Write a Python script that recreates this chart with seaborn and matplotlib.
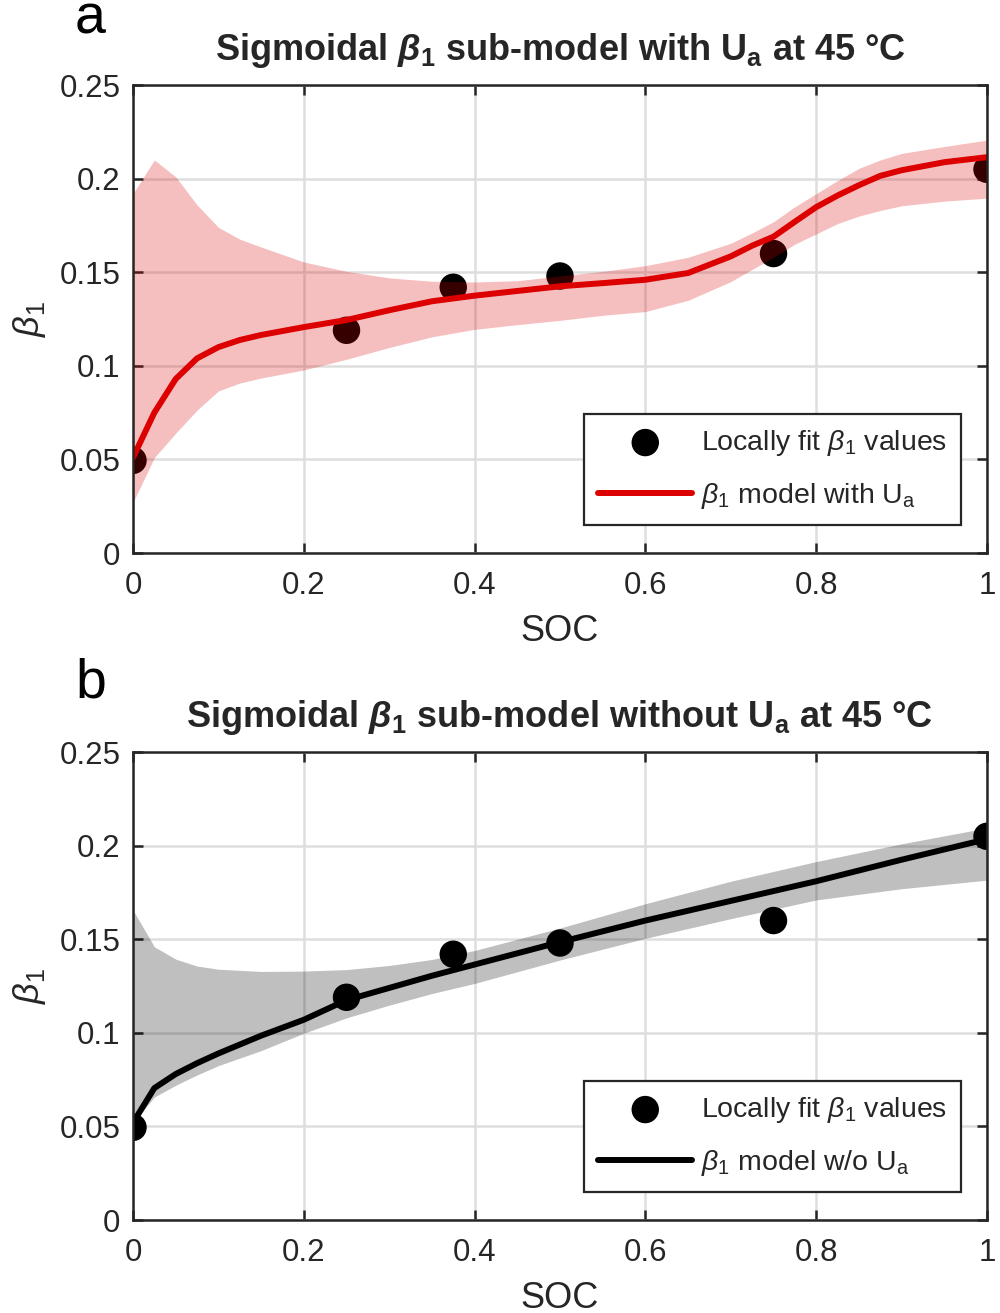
import numpy as np
import pandas as pd
import matplotlib
matplotlib.use('Agg')
import matplotlib.pyplot as plt
import seaborn as sns

# locally fit beta1 values
soc_pts = [0, 0.25, 0.375, 0.5, 0.75, 1.0]
beta_pts = [0.0495, 0.119, 0.142, 0.148, 0.160, 0.205]

# sub-model with Ua
soc_a = [0, 0.025, 0.05, 0.075, 0.1, 0.125, 0.15, 0.2, 0.25, 0.3, 0.35, 0.4, 0.45, 0.5,
         0.55, 0.6, 0.65, 0.7, 0.725, 0.75, 0.775, 0.8, 0.825, 0.85, 0.875, 0.9, 0.95, 1.0]
mid_a = [0.051, 0.075, 0.093, 0.104, 0.110, 0.1138, 0.1165, 0.1207, 0.1245, 0.1297, 0.1345, 0.1375, 0.140, 0.1425,
         0.1442, 0.146, 0.1496, 0.1585, 0.1642, 0.169, 0.177, 0.1848, 0.191, 0.1965, 0.2015, 0.2045, 0.2088, 0.2115]
upper_a = [0.192, 0.210, 0.201, 0.186, 0.174, 0.1677, 0.1635, 0.1555, 0.1505, 0.147, 0.1452, 0.1448, 0.1455, 0.148,
           0.1505, 0.1535, 0.158, 0.1655, 0.171, 0.177, 0.185, 0.192, 0.199, 0.2055, 0.210, 0.2135, 0.2172, 0.2206]
lower_a = [0.027, 0.051, 0.064, 0.0763, 0.0866, 0.0908, 0.0935, 0.0978, 0.1035, 0.1098, 0.1155, 0.1195, 0.122, 0.1243,
           0.127, 0.129, 0.135, 0.145, 0.1515, 0.158, 0.165, 0.1705, 0.176, 0.180, 0.183, 0.1855, 0.188, 0.1896]

# sub-model without Ua
soc_b = [0, 0.025, 0.05, 0.075, 0.1, 0.15, 0.2, 0.25, 0.3, 0.35, 0.4, 0.5, 0.6, 0.7, 0.8, 0.9, 1.0]
mid_b = [0.052, 0.0705, 0.078, 0.0838, 0.089, 0.0985, 0.107, 0.1175, 0.124, 0.1305, 0.1365, 0.1485, 0.160,
         0.1705, 0.181, 0.1925, 0.2035]
upper_b = [0.1656, 0.146, 0.1394, 0.1357, 0.134, 0.1328, 0.133, 0.1338, 0.136, 0.1392, 0.144, 0.156, 0.169,
           0.181, 0.1915, 0.201, 0.2095]
lower_b = [0.052, 0.0657, 0.072, 0.0775, 0.0825, 0.0905, 0.0998, 0.108, 0.1148, 0.121, 0.1264, 0.1389, 0.1505,
           0.161, 0.171, 0.177, 0.1816]

RED = '#dc0000'
sns.set_theme(style='ticks')
plt.rcParams['font.family'] = ['Liberation Sans', 'DejaVu Sans']
plt.rcParams['mathtext.fontset'] = 'custom'
plt.rcParams['mathtext.rm'] = 'Liberation Sans'
plt.rcParams['mathtext.it'] = 'Liberation Sans:italic'
plt.rcParams['mathtext.bf'] = 'Liberation Sans:bold'
plt.rcParams['mathtext.bfit'] = 'Liberation Sans:italic:bold'


def draw_panel(ax, soc, mid, lo, hi, color, title, line_label):
    sns.scatterplot(x=soc_pts, y=beta_pts, ax=ax, color='black', s=390, edgecolor='none',
                    zorder=2, label=r'Locally fit $\beta_1$ values', legend=False)
    ax.fill_between(soc, lo, hi, color=color, alpha=0.25, lw=0, zorder=3)
    df = pd.DataFrame({'soc': soc, 'beta': mid})
    sns.lineplot(data=df, x='soc', y='beta', ax=ax, color=color, lw=4.3, zorder=4,
                 label=line_label, legend=False)
    ax.set_xlim(0, 1)
    ax.set_ylim(0, 0.25)
    ax.set_xticks([0, 0.2, 0.4, 0.6, 0.8, 1])
    ax.set_xticklabels(['0', '0.2', '0.4', '0.6', '0.8', '1'])
    ax.set_yticks([0, 0.05, 0.1, 0.15, 0.2, 0.25])
    ax.set_yticklabels(['0', '0.05', '0.1', '0.15', '0.2', '0.25'])
    ax.grid(True, color='#dedede', lw=1.8, zorder=0)
    ax.set_axisbelow(True)
    for sp in ax.spines.values():
        sp.set_visible(True)
        sp.set_color('#262626')
        sp.set_linewidth(1.8)
        sp.set_zorder(6)
    ax.tick_params(direction='in', length=7, width=1.8, color='#262626', labelsize=22.5,
                   labelcolor='#262626', top=True, right=True, pad=9)
    ax.tick_params(axis='x', pad=13)
    ax.set_xlabel('SOC', fontsize=26, color='#262626', labelpad=9)
    ax.set_ylabel(r'$\beta_1$', fontsize=26, color='#262626', labelpad=8)
    ax.set_title(title, fontsize=26, fontweight='bold', pad=18)
    h, l = ax.get_legend_handles_labels()
    leg = ax.legend(h, l, loc='lower right', bbox_to_anchor=(0.9696, 0.0598), fontsize=20.5,
                    frameon=True, fancybox=False, framealpha=1, edgecolor='#262626',
                    handlelength=3.3, handletextpad=0.3, labelspacing=0.8, borderpad=0.5,
                    borderaxespad=0)
    leg.get_frame().set_linewidth(1.6)
    leg.set_zorder(7)


fig = plt.figure(figsize=(10, 13.13), dpi=100)
ax_a = fig.add_axes([0.133, 0.5788, 0.854, 0.3564])
ax_b = fig.add_axes([0.133, 0.0708, 0.854, 0.3564])

draw_panel(ax_a, soc_a, mid_a, lower_a, upper_a, RED,
           r'Sigmoidal $\mathbfit{\beta}_{\mathbf{1}}$ sub-model with U$_{\mathbf{a}}$ at 45 °C',
           r'$\beta_1$ model with U$_{\mathrm{a}}$')
draw_panel(ax_b, soc_b, mid_b, lower_b, upper_b, 'black',
           r'Sigmoidal $\mathbfit{\beta}_{\mathbf{1}}$ sub-model without U$_{\mathbf{a}}$ at 45 °C',
           r'$\beta_1$ model w/o U$_{\mathrm{a}}$')

fig.text(0.075, 0.9745, 'a', fontsize=40, color='black')
fig.text(0.075, 0.469, 'b', fontsize=40, color='black')

fig.savefig('out.png', dpi=100)
